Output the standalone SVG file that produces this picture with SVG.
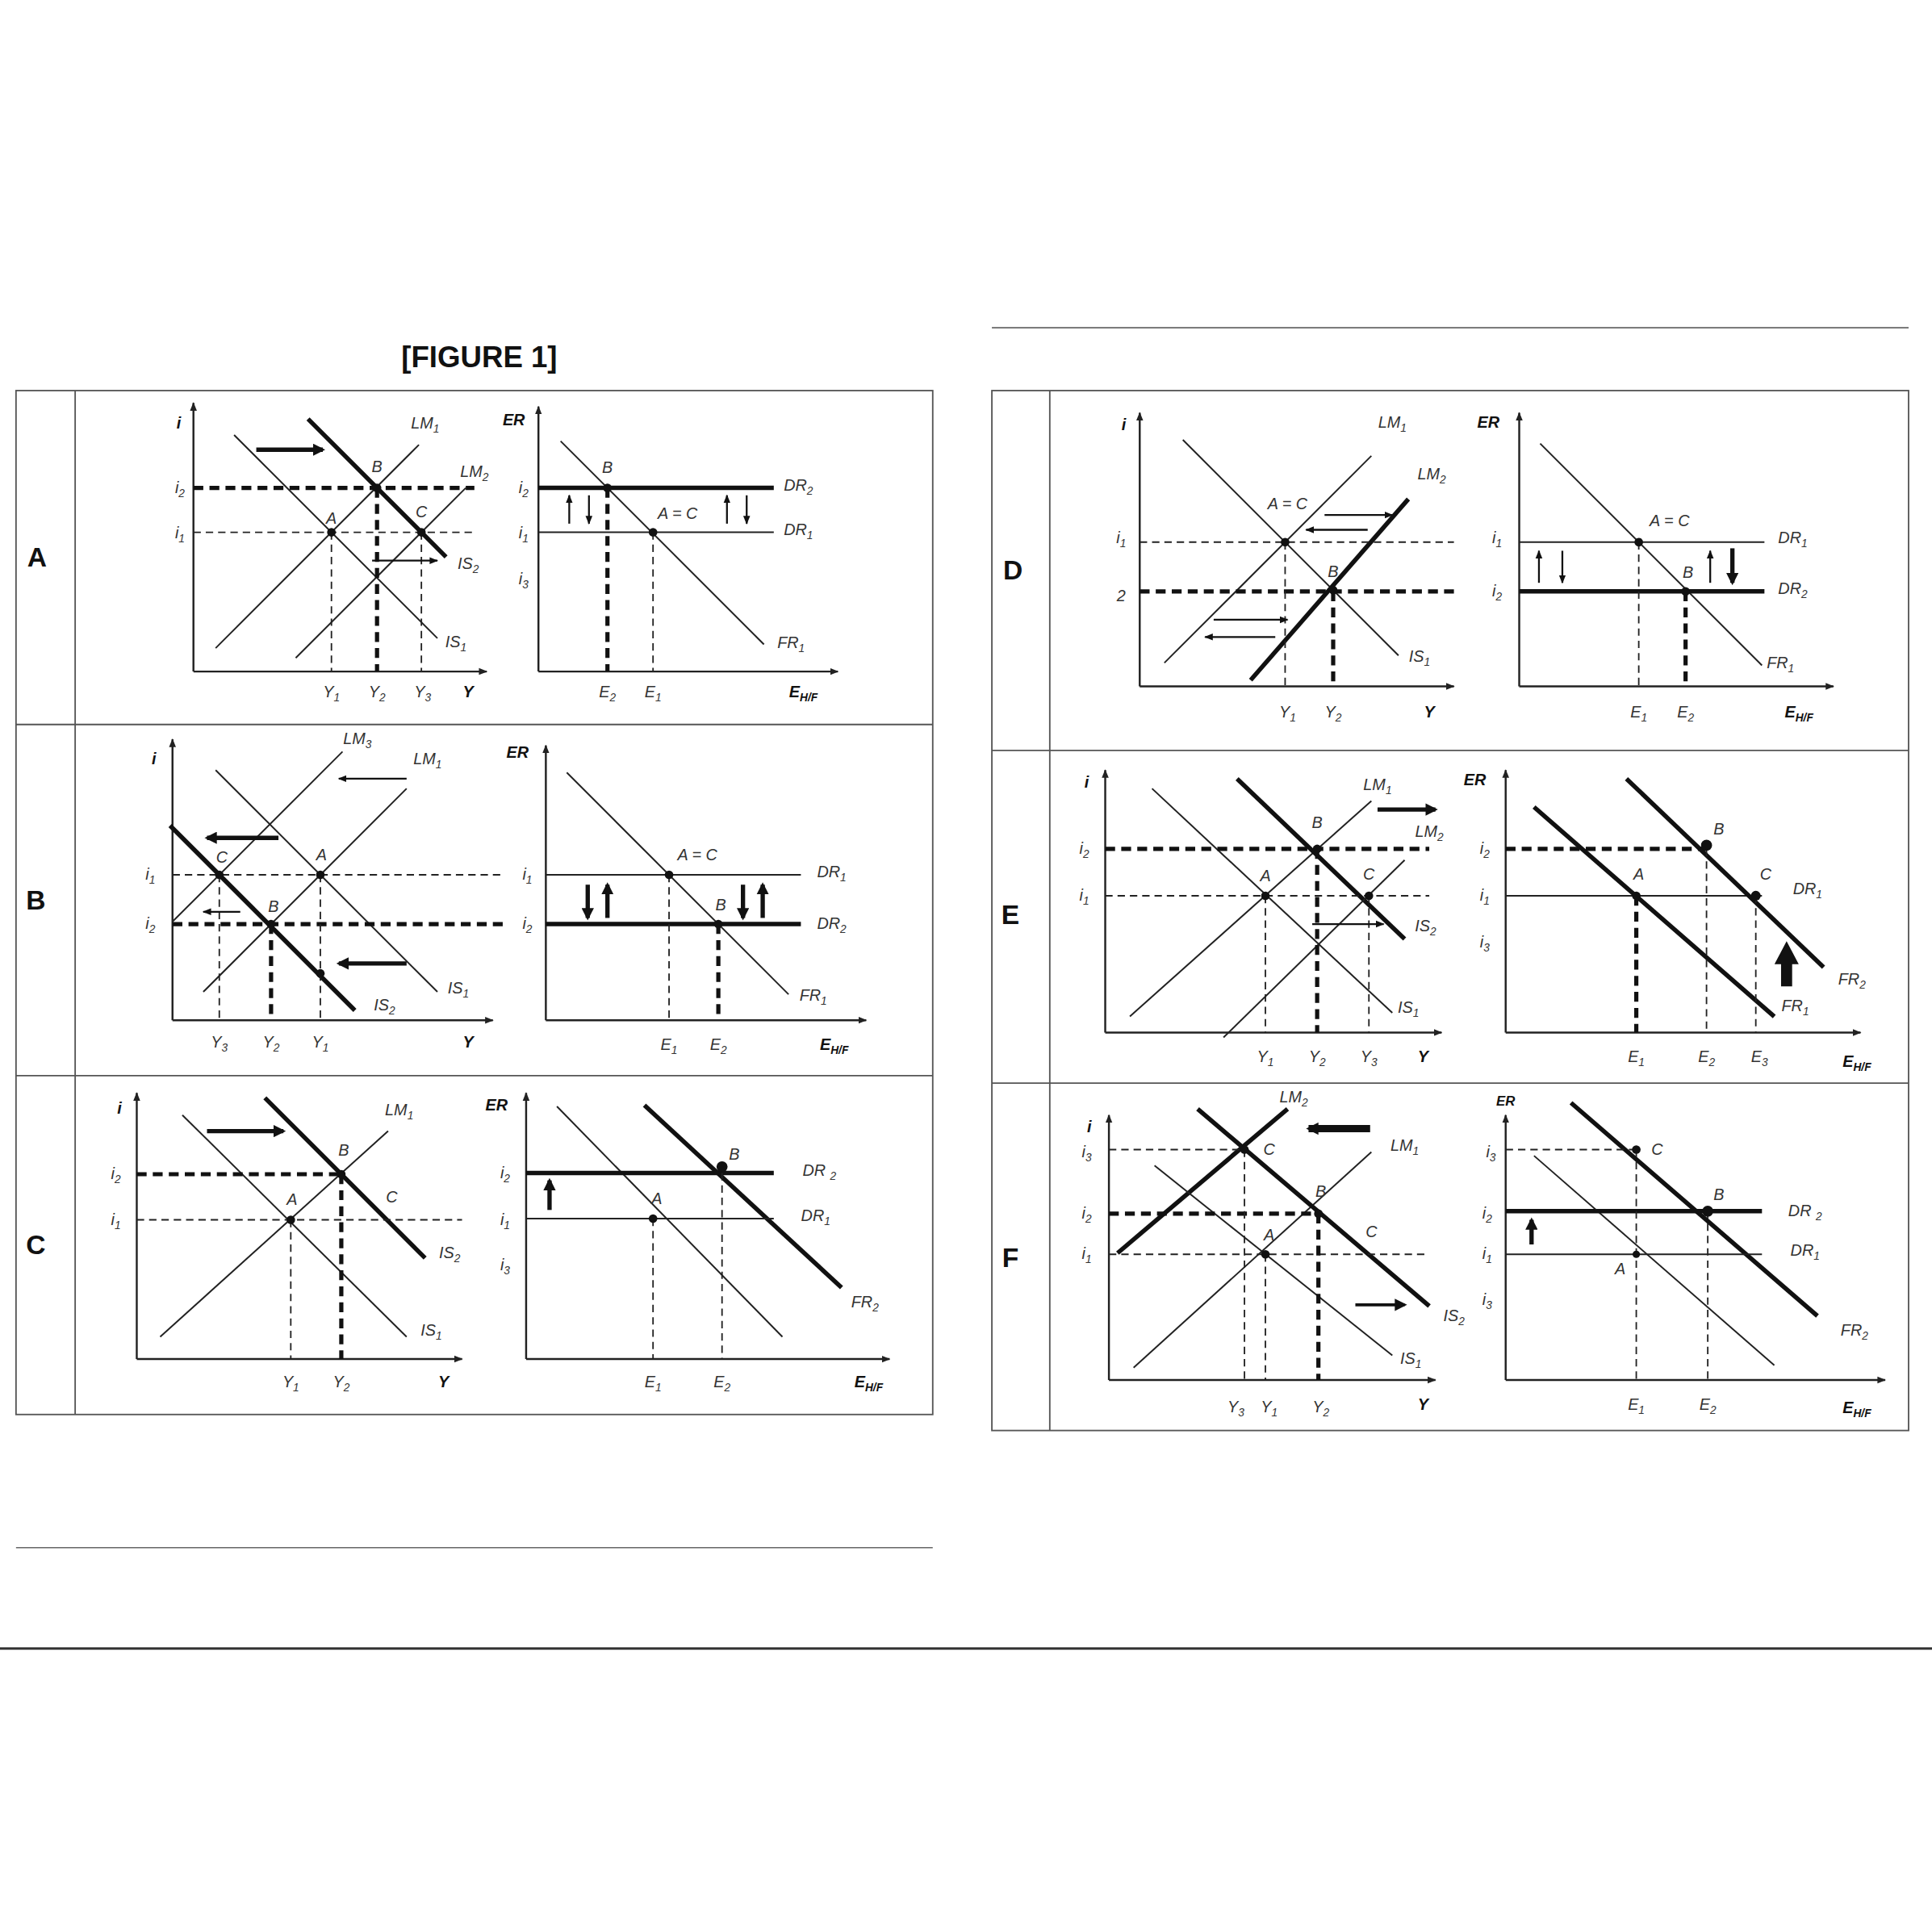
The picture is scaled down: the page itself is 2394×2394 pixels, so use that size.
<svg xmlns="http://www.w3.org/2000/svg" width="2394" height="2394" viewBox="0 0 2394 2394">
<style>
.ax{stroke:#222;stroke-width:1.6;fill:none;marker-end:url(#ah)}
.th{stroke:#222;stroke-width:1.3;fill:none}
.tk{stroke:#111;stroke-width:3.6;fill:none}
.dt{stroke:#222;stroke-width:1.2;stroke-dasharray:6 4;fill:none}
.dk{stroke:#111;stroke-width:3.4;stroke-dasharray:8 5;fill:none}
.ar{stroke:#111;stroke-width:1.5;fill:none;marker-end:url(#sa)}
.ak{stroke:#111;stroke-width:3.5;fill:none;marker-end:url(#ka)}
.frame{stroke:#555;stroke-width:1.2;fill:none}
text{font-family:"Liberation Sans",Arial,sans-serif;fill:#333}
.t{font-size:13px;font-style:italic;text-anchor:middle}
.bl{font-size:13px;font-weight:bold;font-style:italic;text-anchor:middle;fill:#111}
.row{font-size:22px;font-weight:bold;text-anchor:middle;fill:#111}
.s{font-size:9px;baseline-shift:-3px}
.pt{fill:#111}
</style>
<defs>
<marker id="ah" viewBox="0 0 10 10" refX="9" refY="5" markerWidth="7" markerHeight="7" orient="auto" markerUnits="userSpaceOnUse"><path d="M0,1 L10,5 L0,9 z" fill="#222"/></marker>
<marker id="sa" viewBox="0 0 10 10" refX="9" refY="5" markerWidth="7" markerHeight="7" orient="auto" markerUnits="userSpaceOnUse"><path d="M0,1 L10,5 L0,9 z" fill="#111"/></marker>
<marker id="ka" viewBox="0 0 10 10" refX="8" refY="5" markerWidth="10" markerHeight="10" orient="auto" markerUnits="userSpaceOnUse"><path d="M0,0 L10,5 L0,10 z" fill="#111"/></marker>
</defs>
<rect width="2394" height="2394" fill="#fff"/>
<g transform="scale(1.526786)">
<g id="frames">
<text x="389" y="298" style="font-size:24px;font-weight:bold;text-anchor:middle;fill:#111">[FIGURE 1]</text>
<line x1="805" y1="266" x2="1549" y2="266" stroke="#666" stroke-width="1"/>
<line x1="13" y1="1256" x2="757" y2="1256" stroke="#666" stroke-width="1"/>
<line x1="0" y1="1338" x2="1568" y2="1338" stroke="#333" stroke-width="2"/>
<rect class="frame" x="13" y="317" width="744" height="831"/>
<line class="frame" x1="61" y1="317" x2="61" y2="1148"/>
<line class="frame" x1="13" y1="588" x2="757" y2="588"/>
<line class="frame" x1="13" y1="873" x2="757" y2="873"/>
<rect class="frame" x="805" y="317" width="744" height="844"/>
<line class="frame" x1="852" y1="317" x2="852" y2="1161"/>
<line class="frame" x1="805" y1="609" x2="1549" y2="609"/>
<line class="frame" x1="805" y1="879" x2="1549" y2="879"/>
<text class="row" x="30" y="460">A</text>
<text class="row" x="29" y="738">B</text>
<text class="row" x="29" y="1018">C</text>
<text class="row" x="822" y="470">D</text>
<text class="row" x="820" y="750">E</text>
<text class="row" x="820" y="1028">F</text>
</g>

<g id="panelA">
<line class="ax" x1="157" y1="545" x2="157" y2="327"/><line class="ax" x1="157" y1="545" x2="395" y2="545"/>
<line class="th" x1="175" y1="526" x2="340" y2="361"/>
<line class="th" x1="190" y1="353" x2="355" y2="518"/>
<line class="tk" x1="250" y1="340" x2="362" y2="452"/>
<line class="th" x1="240" y1="534" x2="378" y2="396"/>
<line class="dk" x1="157" y1="396" x2="385" y2="396"/><line class="dt" x1="157" y1="432" x2="385" y2="432"/>
<line class="dt" x1="269" y1="432" x2="269" y2="545"/><line class="dk" x1="306" y1="396" x2="306" y2="545"/><line class="dt" x1="342" y1="432" x2="342" y2="545"/>
<line class="ak" x1="208" y1="365" x2="262" y2="365"/><line class="ar" x1="302" y1="455" x2="355" y2="455"/>
<circle class="pt" cx="269" cy="432" r="3.5"/><circle class="pt" cx="306" cy="396" r="3.5"/><circle class="pt" cx="342" cy="432" r="3.5"/>
<text class="bl" x="145" y="348">i</text>
<text class="t" x="146" y="400">i<tspan class="s">2</tspan></text><text class="t" x="146" y="437">i<tspan class="s">1</tspan></text>
<text class="t" x="345" y="348">LM<tspan class="s">1</tspan></text><text class="t" x="385" y="387">LM<tspan class="s">2</tspan></text>
<text class="t" x="380" y="462">IS<tspan class="s">2</tspan></text><text class="t" x="370" y="525">IS<tspan class="s">1</tspan></text>
<text class="t" x="269" y="425">A</text><text class="t" x="306" y="383">B</text><text class="t" x="342" y="420">C</text>
<text class="t" x="269" y="566">Y<tspan class="s">1</tspan></text><text class="t" x="306" y="566">Y<tspan class="s">2</tspan></text><text class="t" x="343" y="566">Y<tspan class="s">3</tspan></text><text class="bl" x="380" y="566">Y</text>
<line class="ax" x1="437" y1="545" x2="437" y2="330"/><line class="ax" x1="437" y1="545" x2="680" y2="545"/>
<line class="th" x1="455" y1="358" x2="620" y2="523"/>
<line class="tk" x1="437" y1="396" x2="628" y2="396"/><line class="th" x1="437" y1="432" x2="628" y2="432"/>
<line class="dk" x1="493" y1="396" x2="493" y2="545"/><line class="dt" x1="530" y1="432" x2="530" y2="545"/>
<line class="ar" x1="462" y1="425" x2="462" y2="402"/><line class="ar" x1="478" y1="402" x2="478" y2="425"/>
<line class="ar" x1="590" y1="425" x2="590" y2="402"/><line class="ar" x1="606" y1="402" x2="606" y2="425"/>
<circle class="pt" cx="493" cy="396" r="3.5"/><circle class="pt" cx="530" cy="432" r="3.5"/>
<text class="bl" x="417" y="345">ER</text>
<text class="t" x="425" y="400">i<tspan class="s">2</tspan></text><text class="t" x="425" y="437">i<tspan class="s">1</tspan></text><text class="t" x="425" y="474">i<tspan class="s">3</tspan></text>
<text class="t" x="493" y="384">B</text><text class="t" x="550" y="421">A = C</text>
<text class="t" x="648" y="398">DR<tspan class="s">2</tspan></text><text class="t" x="648" y="434">DR<tspan class="s">1</tspan></text><text class="t" x="642" y="526">FR<tspan class="s">1</tspan></text>
<text class="t" x="493" y="566">E<tspan class="s">2</tspan></text><text class="t" x="530" y="566">E<tspan class="s">1</tspan></text><text class="bl" x="652" y="566">E<tspan class="s">H/F</tspan></text>
</g>

<g id="panelB">
<line class="ax" x1="140" y1="828" x2="140" y2="600"/><line class="ax" x1="140" y1="828" x2="400" y2="828"/>
<line class="th" x1="165" y1="805" x2="330" y2="640"/>
<line class="th" x1="140" y1="748" x2="278" y2="610"/>
<line class="th" x1="175" y1="625" x2="355" y2="805"/>
<line class="tk" x1="138" y1="670" x2="288" y2="820"/>
<line class="dt" x1="140" y1="710" x2="410" y2="710"/><line class="dk" x1="140" y1="750" x2="410" y2="750"/>
<line class="dt" x1="178" y1="710" x2="178" y2="828"/><line class="dk" x1="220" y1="750" x2="220" y2="828"/><line class="dt" x1="260" y1="710" x2="260" y2="828"/>
<line class="ar" x1="330" y1="632" x2="275" y2="632"/><line class="ak" x1="226" y1="680" x2="168" y2="680"/>
<line class="ar" x1="195" y1="740" x2="165" y2="740"/><line class="ak" x1="330" y1="782" x2="275" y2="782"/>
<circle class="pt" cx="178" cy="710" r="3.5"/><circle class="pt" cx="260" cy="710" r="3.5"/><circle class="pt" cx="220" cy="750" r="3.5"/><circle class="pt" cx="260" cy="790" r="3.5"/>
<text class="bl" x="125" y="620">i</text>
<text class="t" x="122" y="714">i<tspan class="s">1</tspan></text><text class="t" x="122" y="754">i<tspan class="s">2</tspan></text>
<text class="t" x="290" y="604">LM<tspan class="s">3</tspan></text><text class="t" x="347" y="620">LM<tspan class="s">1</tspan></text>
<text class="t" x="372" y="806">IS<tspan class="s">1</tspan></text><text class="t" x="312" y="820">IS<tspan class="s">2</tspan></text>
<text class="t" x="180" y="700">C</text><text class="t" x="261" y="698">A</text><text class="t" x="222" y="740">B</text>
<text class="t" x="178" y="850">Y<tspan class="s">3</tspan></text><text class="t" x="220" y="850">Y<tspan class="s">2</tspan></text><text class="t" x="260" y="850">Y<tspan class="s">1</tspan></text><text class="bl" x="380" y="850">Y</text>
<line class="ax" x1="443" y1="828" x2="443" y2="605"/><line class="ax" x1="443" y1="828" x2="703" y2="828"/>
<line class="th" x1="460" y1="627" x2="640" y2="807"/>
<line class="th" x1="443" y1="710" x2="650" y2="710"/><line class="tk" x1="443" y1="750" x2="650" y2="750"/>
<line class="dt" x1="543" y1="710" x2="543" y2="828"/><line class="dk" x1="583" y1="750" x2="583" y2="828"/>
<line class="ak" x1="477" y1="718" x2="477" y2="745"/><line class="ak" x1="493" y1="745" x2="493" y2="718"/>
<line class="ak" x1="603" y1="718" x2="603" y2="745"/><line class="ak" x1="619" y1="745" x2="619" y2="718"/>
<circle class="pt" cx="543" cy="710" r="3.5"/><circle class="pt" cx="583" cy="750" r="3.5"/>
<text class="bl" x="420" y="615">ER</text>
<text class="t" x="428" y="714">i<tspan class="s">1</tspan></text><text class="t" x="428" y="754">i<tspan class="s">2</tspan></text>
<text class="t" x="566" y="698">A = C</text><text class="t" x="585" y="739">B</text>
<text class="t" x="675" y="712">DR<tspan class="s">1</tspan></text><text class="t" x="675" y="754">DR<tspan class="s">2</tspan></text><text class="t" x="660" y="812">FR<tspan class="s">1</tspan></text>
<text class="t" x="543" y="852">E<tspan class="s">1</tspan></text><text class="t" x="583" y="852">E<tspan class="s">2</tspan></text><text class="bl" x="677" y="852">E<tspan class="s">H/F</tspan></text>
</g>

<g id="panelC">
<line class="ax" x1="111" y1="1103" x2="111" y2="887"/><line class="ax" x1="111" y1="1103" x2="375" y2="1103"/>
<line class="th" x1="130" y1="1085" x2="315" y2="918"/>
<line class="th" x1="148" y1="905" x2="330" y2="1085"/>
<line class="tk" x1="215" y1="891" x2="345" y2="1021"/>
<line class="dk" x1="111" y1="953" x2="280" y2="953"/><line class="dt" x1="111" y1="990" x2="375" y2="990"/>
<line class="dt" x1="236" y1="990" x2="236" y2="1103"/><line class="dk" x1="277" y1="953" x2="277" y2="1103"/>
<line class="ak" x1="168" y1="918" x2="230" y2="918"/>
<circle class="pt" cx="236" cy="990" r="3.5"/><circle class="pt" cx="277" cy="953" r="3.5"/>
<text class="bl" x="97" y="904">i</text>
<text class="t" x="94" y="957">i<tspan class="s">2</tspan></text><text class="t" x="94" y="994">i<tspan class="s">1</tspan></text>
<text class="t" x="324" y="905">LM<tspan class="s">1</tspan></text><text class="t" x="365" y="1021">IS<tspan class="s">2</tspan></text><text class="t" x="350" y="1084">IS<tspan class="s">1</tspan></text>
<text class="t" x="237" y="978">A</text><text class="t" x="279" y="938">B</text><text class="t" x="318" y="976">C</text>
<text class="t" x="236" y="1126">Y<tspan class="s">1</tspan></text><text class="t" x="277" y="1126">Y<tspan class="s">2</tspan></text><text class="bl" x="360" y="1126">Y</text>
<line class="ax" x1="427" y1="1103" x2="427" y2="887"/><line class="ax" x1="427" y1="1103" x2="722" y2="1103"/>
<line class="th" x1="452" y1="898" x2="635" y2="1085"/>
<line class="tk" x1="523" y1="897" x2="683" y2="1045"/>
<line class="tk" x1="427" y1="952" x2="628" y2="952"/><line class="th" x1="427" y1="989" x2="628" y2="989"/>
<line class="dt" x1="530" y1="989" x2="530" y2="1103"/><line class="dt" x1="586" y1="952" x2="586" y2="1103"/>
<line class="ak" x1="446" y1="982" x2="446" y2="958"/>
<circle class="pt" cx="530" cy="989" r="3.5"/><circle class="pt" cx="586" cy="947" r="4.5"/>
<text class="bl" x="403" y="901">ER</text>
<text class="t" x="410" y="956">i<tspan class="s">2</tspan></text><text class="t" x="410" y="994">i<tspan class="s">1</tspan></text><text class="t" x="410" y="1031">i<tspan class="s">3</tspan></text>
<text class="t" x="533" y="977">A</text><text class="t" x="596" y="941">B</text>
<text class="t" x="665" y="954">DR <tspan class="s">2</tspan></text><text class="t" x="662" y="991">DR<tspan class="s">1</tspan></text><text class="t" x="702" y="1061">FR<tspan class="s">2</tspan></text>
<text class="t" x="530" y="1126">E<tspan class="s">1</tspan></text><text class="t" x="586" y="1126">E<tspan class="s">2</tspan></text><text class="bl" x="705" y="1126">E<tspan class="s">H/F</tspan></text>
</g>

<g id="panelD">
<line class="ax" x1="925" y1="557" x2="925" y2="335"/><line class="ax" x1="925" y1="557" x2="1180" y2="557"/>
<line class="th" x1="945" y1="538" x2="1113" y2="370"/>
<line class="th" x1="960" y1="357" x2="1135" y2="532"/>
<line class="tk" x1="1015" y1="552" x2="1143" y2="405"/>
<line class="dt" x1="925" y1="440" x2="1180" y2="440"/><line class="dk" x1="925" y1="480" x2="1180" y2="480"/>
<line class="dt" x1="1043" y1="440" x2="1043" y2="557"/><line class="dk" x1="1082" y1="480" x2="1082" y2="557"/>
<line class="ar" x1="1075" y1="418" x2="1130" y2="418"/><line class="ar" x1="1110" y1="430" x2="1060" y2="430"/>
<line class="ar" x1="985" y1="503" x2="1045" y2="503"/><line class="ar" x1="1035" y1="517" x2="978" y2="517"/>
<circle class="pt" cx="1043" cy="440" r="3.5"/><circle class="pt" cx="1082" cy="479" r="3.5"/>
<text class="bl" x="912" y="349">i</text>
<text class="t" x="910" y="441">i<tspan class="s">1</tspan></text><text class="t" x="910" y="488">2</text>
<text class="t" x="1130" y="347">LM<tspan class="s">1</tspan></text><text class="t" x="1162" y="389">LM<tspan class="s">2</tspan></text><text class="t" x="1152" y="537">IS<tspan class="s">1</tspan></text>
<text class="t" x="1045" y="413">A = C</text><text class="t" x="1082" y="468">B</text>
<text class="t" x="1045" y="582">Y<tspan class="s">1</tspan></text><text class="t" x="1082" y="582">Y<tspan class="s">2</tspan></text><text class="bl" x="1160" y="582">Y</text>
<line class="ax" x1="1233" y1="557" x2="1233" y2="335"/><line class="ax" x1="1233" y1="557" x2="1488" y2="557"/>
<line class="th" x1="1250" y1="360" x2="1430" y2="540"/>
<line class="th" x1="1233" y1="440" x2="1432" y2="440"/><line class="tk" x1="1233" y1="480" x2="1432" y2="480"/>
<line class="dt" x1="1330" y1="440" x2="1330" y2="557"/><line class="dk" x1="1368" y1="480" x2="1368" y2="557"/>
<line class="ar" x1="1249" y1="473" x2="1249" y2="447"/><line class="ar" x1="1268" y1="447" x2="1268" y2="473"/>
<line class="ar" x1="1388" y1="473" x2="1388" y2="447"/><line class="ak" x1="1406" y1="445" x2="1406" y2="473"/>
<circle class="pt" cx="1330" cy="440" r="3.5"/><circle class="pt" cx="1368" cy="480" r="3.5"/>
<text class="bl" x="1208" y="347">ER</text>
<text class="t" x="1215" y="441">i<tspan class="s">1</tspan></text><text class="t" x="1215" y="484">i<tspan class="s">2</tspan></text>
<text class="t" x="1355" y="427">A = C</text><text class="t" x="1370" y="469">B</text>
<text class="t" x="1455" y="441">DR<tspan class="s">1</tspan></text><text class="t" x="1455" y="482">DR<tspan class="s">2</tspan></text><text class="t" x="1445" y="542">FR<tspan class="s">1</tspan></text>
<text class="t" x="1330" y="582">E<tspan class="s">1</tspan></text><text class="t" x="1368" y="582">E<tspan class="s">2</tspan></text><text class="bl" x="1460" y="582">E<tspan class="s">H/F</tspan></text>
</g>

<g id="panelE">
<line class="ax" x1="897" y1="838" x2="897" y2="625"/><line class="ax" x1="897" y1="838" x2="1170" y2="838"/>
<line class="th" x1="917" y1="825" x2="1113" y2="650"/>
<line class="th" x1="935" y1="640" x2="1130" y2="822"/>
<line class="tk" x1="1004" y1="632" x2="1140" y2="762"/>
<line class="th" x1="993" y1="842" x2="1140" y2="698"/>
<line class="dk" x1="897" y1="689" x2="1160" y2="689"/><line class="dt" x1="897" y1="727" x2="1160" y2="727"/>
<line class="dt" x1="1027" y1="727" x2="1027" y2="838"/><line class="dk" x1="1069" y1="689" x2="1069" y2="838"/><line class="dt" x1="1111" y1="727" x2="1111" y2="838"/>
<line class="ak" x1="1118" y1="657" x2="1165" y2="657"/><line class="ar" x1="1065" y1="750" x2="1123" y2="750"/>
<circle class="pt" cx="1027" cy="727" r="3.5"/><circle class="pt" cx="1069" cy="689" r="3.5"/><circle class="pt" cx="1111" cy="727" r="3.5"/>
<text class="bl" x="882" y="639">i</text>
<text class="t" x="880" y="693">i<tspan class="s">2</tspan></text><text class="t" x="880" y="731">i<tspan class="s">1</tspan></text>
<text class="t" x="1118" y="641">LM<tspan class="s">1</tspan></text><text class="t" x="1160" y="679">LM<tspan class="s">2</tspan></text>
<text class="t" x="1157" y="756">IS<tspan class="s">2</tspan></text><text class="t" x="1143" y="822">IS<tspan class="s">1</tspan></text>
<text class="t" x="1027" y="715">A</text><text class="t" x="1069" y="672">B</text><text class="t" x="1111" y="714">C</text>
<text class="t" x="1027" y="862">Y<tspan class="s">1</tspan></text><text class="t" x="1069" y="862">Y<tspan class="s">2</tspan></text><text class="t" x="1111" y="862">Y<tspan class="s">3</tspan></text><text class="bl" x="1155" y="862">Y</text>
<line class="ax" x1="1222" y1="838" x2="1222" y2="625"/><line class="ax" x1="1222" y1="838" x2="1510" y2="838"/>
<line class="th" x1="1222" y1="727" x2="1430" y2="727"/>
<line class="tk" x1="1245" y1="655" x2="1440" y2="825"/>
<line class="tk" x1="1320" y1="632" x2="1480" y2="785"/>
<line class="dk" x1="1222" y1="689" x2="1385" y2="689"/>
<line class="dk" x1="1328" y1="727" x2="1328" y2="838"/><line class="dt" x1="1385" y1="689" x2="1385" y2="838"/><line class="dt" x1="1425" y1="727" x2="1425" y2="838"/>
<path d="M1446,800 L1446,782 L1441,782 L1450,765 L1459,782 L1454,782 L1454,800 Z" fill="#111" stroke="#111"/>
<circle class="pt" cx="1328" cy="727" r="3.5"/><circle class="pt" cx="1385" cy="686" r="4.5"/><circle class="pt" cx="1425" cy="727" r="4"/>
<text class="bl" x="1197" y="637">ER</text>
<text class="t" x="1205" y="693">i<tspan class="s">2</tspan></text><text class="t" x="1205" y="731">i<tspan class="s">1</tspan></text><text class="t" x="1205" y="769">i<tspan class="s">3</tspan></text>
<text class="t" x="1395" y="677">B</text><text class="t" x="1330" y="714">A</text><text class="t" x="1433" y="714">C</text>
<text class="t" x="1467" y="726">DR<tspan class="s">1</tspan></text><text class="t" x="1503" y="799">FR<tspan class="s">2</tspan></text><text class="t" x="1457" y="821">FR<tspan class="s">1</tspan></text>
<text class="t" x="1328" y="862">E<tspan class="s">1</tspan></text><text class="t" x="1385" y="862">E<tspan class="s">2</tspan></text><text class="t" x="1428" y="862">E<tspan class="s">3</tspan></text><text class="bl" x="1507" y="866">E<tspan class="s">H/F</tspan></text>
</g>

<g id="panelF">
<line class="ax" x1="900" y1="1120" x2="900" y2="905"/><line class="ax" x1="900" y1="1120" x2="1165" y2="1120"/>
<line class="tk" x1="907" y1="1017" x2="1045" y2="900"/>
<line class="th" x1="920" y1="1110" x2="1113" y2="935"/>
<line class="th" x1="937" y1="946" x2="1130" y2="1100"/>
<line class="tk" x1="972" y1="900" x2="1160" y2="1060"/>
<line class="dt" x1="900" y1="933" x2="1010" y2="933"/><line class="dk" x1="900" y1="985" x2="1070" y2="985"/><line class="dt" x1="900" y1="1018" x2="1160" y2="1018"/>
<line class="dt" x1="1010" y1="933" x2="1010" y2="1120"/><line class="dt" x1="1027" y1="1018" x2="1027" y2="1120"/><line class="dk" x1="1070" y1="985" x2="1070" y2="1120"/>
<line class="ak" x1="1112" y1="916" x2="1062" y2="916" style="stroke-width:6"/><line class="ak" x1="1100" y1="1059" x2="1140" y2="1059" style="stroke-width:2.5"/>
<circle class="pt" cx="1010" cy="933" r="3.5"/><circle class="pt" cx="1070" cy="985" r="3.5"/><circle class="pt" cx="1027" cy="1018" r="3.5"/>
<text class="bl" x="884" y="919">i</text>
<text class="t" x="882" y="939">i<tspan class="s">3</tspan></text><text class="t" x="882" y="989">i<tspan class="s">2</tspan></text><text class="t" x="882" y="1022">i<tspan class="s">1</tspan></text>
<text class="t" x="1050" y="895">LM<tspan class="s">2</tspan></text><text class="t" x="1140" y="934">LM<tspan class="s">1</tspan></text>
<text class="t" x="1180" y="1072">IS<tspan class="s">2</tspan></text><text class="t" x="1145" y="1107">IS<tspan class="s">1</tspan></text>
<text class="t" x="1030" y="937">C</text><text class="t" x="1072" y="971">B</text><text class="t" x="1030" y="1007">A</text><text class="t" x="1113" y="1004">C</text>
<text class="t" x="1003" y="1146">Y<tspan class="s">3</tspan></text><text class="t" x="1030" y="1146">Y<tspan class="s">1</tspan></text><text class="t" x="1072" y="1146">Y<tspan class="s">2</tspan></text><text class="bl" x="1155" y="1144">Y</text>
<line class="ax" x1="1222" y1="1120" x2="1222" y2="905"/><line class="ax" x1="1222" y1="1120" x2="1530" y2="1120"/>
<line class="th" x1="1245" y1="938" x2="1440" y2="1108"/>
<line class="tk" x1="1275" y1="895" x2="1475" y2="1068"/>
<line class="tk" x1="1222" y1="983" x2="1430" y2="983"/><line class="th" x1="1222" y1="1018" x2="1430" y2="1018"/>
<line class="dt" x1="1222" y1="933" x2="1328" y2="933"/>
<line class="dt" x1="1328" y1="933" x2="1328" y2="1120"/><line class="dt" x1="1386" y1="983" x2="1386" y2="1120"/>
<line class="ak" x1="1243" y1="1010" x2="1243" y2="990"/>
<circle class="pt" cx="1328" cy="933" r="3.5"/><circle class="pt" cx="1386" cy="983" r="4.5"/><circle class="pt" cx="1328" cy="1018" r="3"/>
<text class="bl" x="1222" y="897" style="font-size:11px">ER</text>
<text class="t" x="1210" y="939">i<tspan class="s">3</tspan></text><text class="t" x="1207" y="989">i<tspan class="s">2</tspan></text><text class="t" x="1207" y="1022">i<tspan class="s">1</tspan></text><text class="t" x="1207" y="1059">i<tspan class="s">3</tspan></text>
<text class="t" x="1345" y="937">C</text><text class="t" x="1395" y="974">B</text><text class="t" x="1315" y="1034">A</text>
<text class="t" x="1465" y="987">DR <tspan class="s">2</tspan></text><text class="t" x="1465" y="1019">DR<tspan class="s">1</tspan></text><text class="t" x="1505" y="1084">FR<tspan class="s">2</tspan></text>
<text class="t" x="1328" y="1144">E<tspan class="s">1</tspan></text><text class="t" x="1386" y="1144">E<tspan class="s">2</tspan></text><text class="bl" x="1507" y="1147">E<tspan class="s">H/F</tspan></text>
</g>
</g>
</svg>
